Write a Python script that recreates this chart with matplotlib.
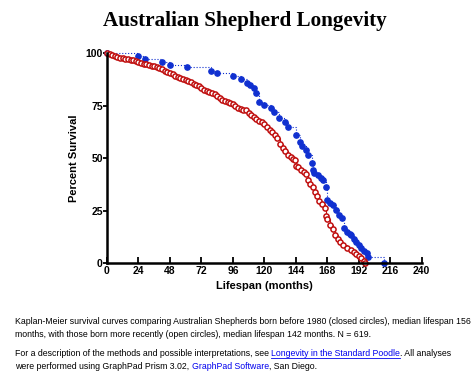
import matplotlib.pyplot as plt
import numpy as np

# before 1980 (closed circles)
old_months = [0, 24, 29, 42, 48, 61, 79, 84, 96, 102, 107, 109, 112, 114, 116, 120, 125, 127, 131,
              136, 138, 144, 147, 149, 152, 153, 156, 157, 158, 161, 163, 165, 167, 168, 170, 172,
              175, 177, 179, 181, 183, 185, 186, 188, 190, 192, 194, 196, 198, 199, 211]
old_surv = [100, 98.6, 97, 95.7, 94.4, 93.2, 91.6, 90.3, 89, 87.5, 85.9, 84.8, 83.2, 80.8, 76.8,
            75.2, 73.7, 72, 68.9, 67.3, 64.9, 61, 57.8, 55.5, 53.8, 51.4, 47.5, 44.3, 43, 41.9, 40.5,
            39.5, 36.3, 30, 28.5, 27.6, 25.2, 23, 21.3, 16.5, 15, 14, 13.3, 11.5, 10.1, 8.5, 7, 5.5,
            4.6, 2.7, 0]

# born more recently (open circles)
new_months = [0, 2, 4, 6, 8, 10, 12, 14, 16, 18, 20, 22, 24, 26, 28, 30, 32, 34, 36, 38, 40, 42, 44,
              46, 48, 50, 52, 54, 56, 58, 60, 62, 64, 66, 68, 70, 72, 74, 76, 78, 80, 82, 84, 86, 88,
              90, 92, 94, 96, 98, 100, 102, 104, 106, 108, 110, 112, 114, 116, 118, 120, 122, 124,
              126, 128, 130, 132, 134, 136, 138, 140, 142, 143, 144, 146, 148, 150, 152, 153, 155,
              157, 159, 160, 162, 164, 166, 167, 168, 170, 172, 174, 176, 178, 180, 183, 186, 188,
              190, 192, 194, 196, 197]
new_surv = [100, 99.6, 99, 98.5, 98.2, 97.8, 97.5, 97.2, 97, 96.8, 96.5, 96.2, 95.9, 95.4, 95, 94.6,
            94.3, 94, 93.7, 93.5, 92.8, 92.2, 91.6, 91, 90.3, 89.8, 89.2, 88.7, 88.2, 87.6, 87.1,
            86.6, 86, 85.4, 84.8, 84.2, 83.5, 82.6, 82, 81.5, 81, 80.5, 79.6, 78.5, 77.8, 77.2, 76.6,
            76.2, 75.8, 74.8, 73.8, 73.3, 73, 72.9, 71.5, 70.3, 69.5, 68.8, 67.8, 67, 66, 64.8, 63.5,
            62.5, 61.2, 59.5, 56.5, 55, 53.5, 51.5, 50.5, 49.5, 49, 46, 45.5, 44.5, 43.5, 42.5, 39.5,
            37.5, 36, 34, 32, 29.5, 28, 26, 22.5, 21, 18, 16, 13.5, 11.5, 10, 8.5, 7, 6, 5.2, 4.5,
            3.5, 2.5, 1, 0]

xticks = [0, 24, 48, 72, 96, 120, 144, 168, 192, 216, 240]
yticks = [0, 25, 50, 75, 100]

blue = '#1030d0'
red = '#c01010'

fig = plt.figure(figsize=(4.74, 3.71), dpi=100)
ax = fig.add_axes([0.2257, 0.291, 0.664, 0.566])

ax.plot(old_months, old_surv, drawstyle='steps-post', ls=':', lw=0.8, color=blue, clip_on=False)
ax.plot(old_months, old_surv, 'o', ms=3.8, color=blue, mec=blue, clip_on=False)
ax.plot(new_months, new_surv, drawstyle='steps-post', ls='-', lw=0.8, color=red, clip_on=False)
ax.plot(new_months, new_surv, 'o', ms=3.7, mfc='white', mec=red, mew=1.1, clip_on=False)

ax.set_xlim(0, 240)
ax.set_ylim(0, 100)
ax.set_xticks(xticks)
ax.set_yticks(yticks)
for s in ['top', 'right']:
    ax.spines[s].set_visible(False)
for s in ['left', 'bottom']:
    ax.spines[s].set_linewidth(1.8)
ax.tick_params(axis='x', direction='in', length=4, width=1.3, pad=2)
ax.tick_params(axis='y', direction='out', length=3, width=1.3, pad=0)
for lab in ax.get_xticklabels() + ax.get_yticklabels():
    lab.set_fontweight('bold')
    lab.set_fontsize(7.5)
    lab.set_family('Liberation Sans')

ax.set_xlabel('Lifespan (months)', fontsize=8, fontweight='bold', family='Liberation Sans', labelpad=4)
ax.set_ylabel('Percent Survival', fontsize=8, fontweight='bold', family='Liberation Sans', labelpad=5)

fig.text(0.517, 0.943, 'Australian Shepherd Longevity', ha='center', va='center',
         fontsize=15.2, fontweight='bold', family='Liberation Serif')

# caption
cap = dict(fontsize=6.3, family='Liberation Sans', va='baseline')
fig.text(15 / 474, 1 - 324 / 371, 'Kaplan-Meier survival curves comparing Australian Shepherds born before 1980 '
         '(closed circles), median lifespan 156', **cap)
fig.text(15 / 474, 1 - 337 / 371, 'months, with those born more recently (open circles), median lifespan '
         '142 months. N = 619.', **cap)

fig.canvas.draw()
r = fig.canvas.get_renderer()


def run(parts, y):
    x = 15
    for txt, link in parts:
        t = fig.text(x / 474, 1 - y / 371, txt, color='#0000ee' if link else 'black', **cap)
        bb = t.get_window_extent(r)
        if link:
            fig.add_artist(plt.Line2D([bb.x0 / 474, bb.x1 / 474], [(371 - y - 1.5) / 371] * 2,
                                      color='#0000ee', lw=0.6))
        x = bb.x1


run([('For a description of the methods and possible interpretations, see ', False),
     ('Longevity in the Standard Poodle', True),
     ('. All analyses', False)], 356)
run([('were performed using GraphPad Prism 3.02, ', False),
     ('GraphPad Software', True),
     (', San Diego.', False)], 369)

fig.savefig('out.png', dpi=100)
